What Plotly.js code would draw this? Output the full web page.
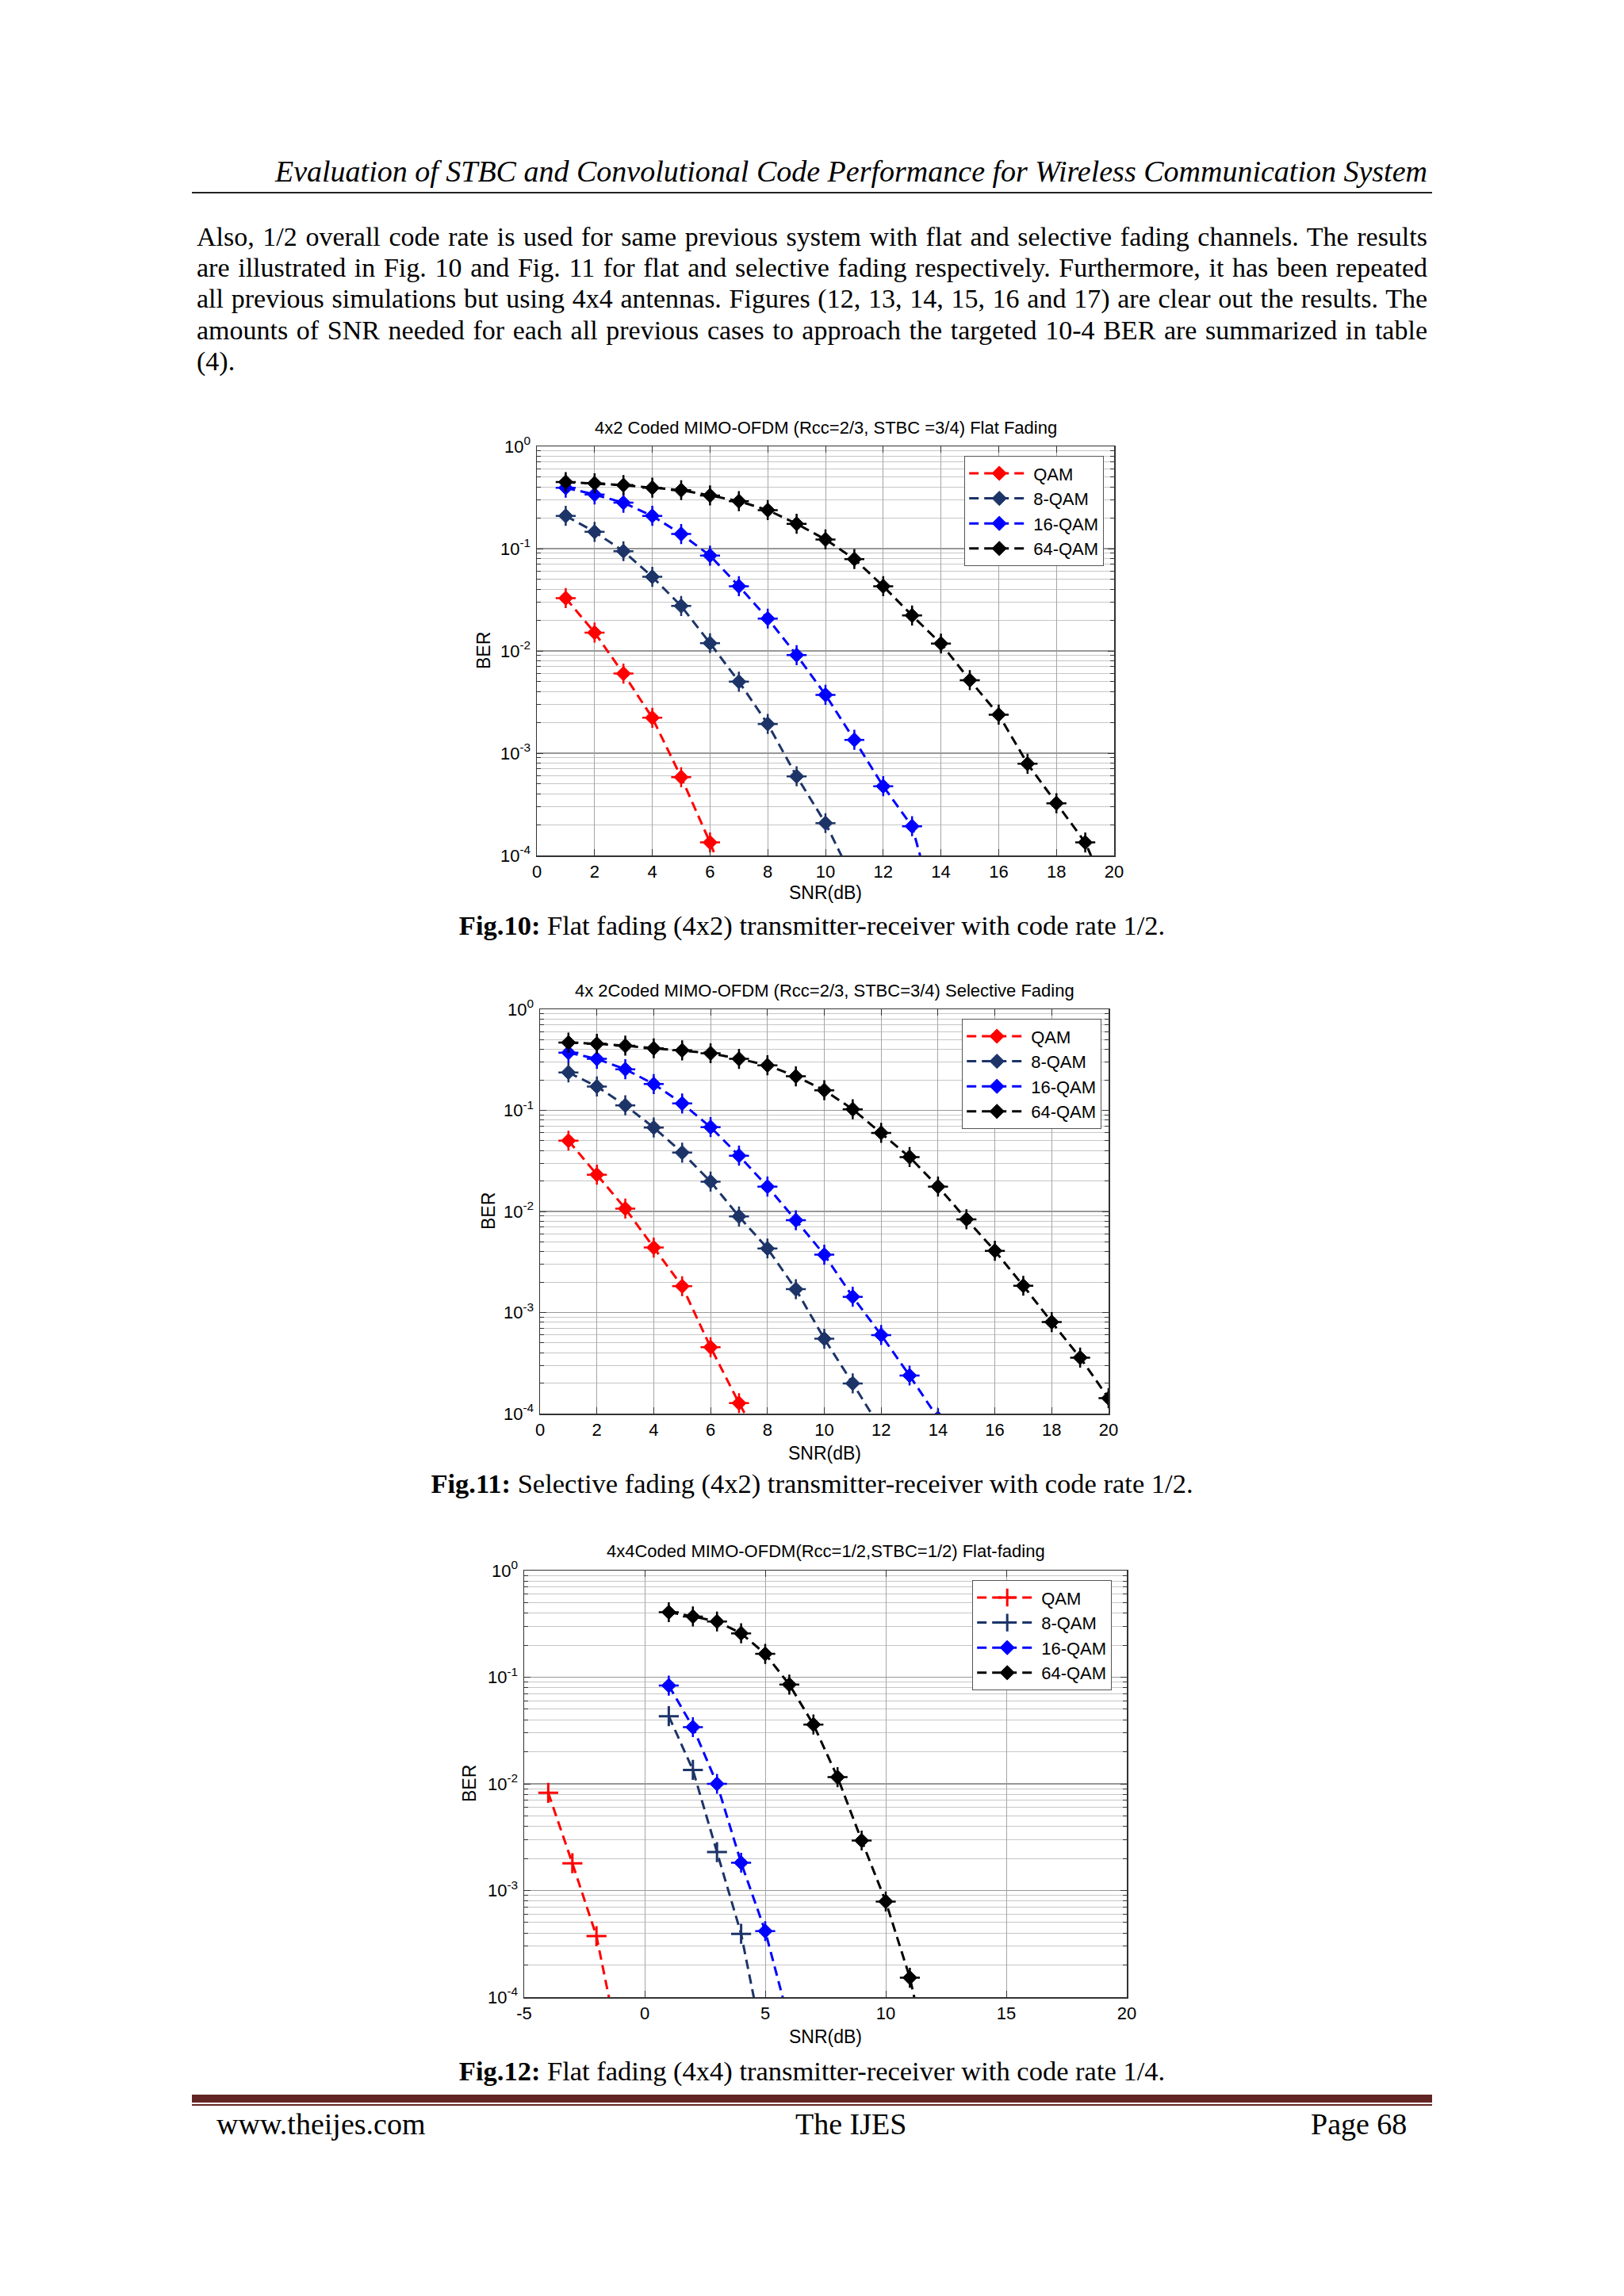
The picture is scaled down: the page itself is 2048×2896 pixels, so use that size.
<!DOCTYPE html>
<html>
<head>
<meta charset="utf-8">
<script src="https://cdn.plot.ly/plotly-3.0.1.min.js"></script>
<style>
  html, body { margin:0; padding:0; background:#fff; }
  #page { position:relative; width:2048px; height:2896px; overflow:hidden; background:#fff; }
  #plot { position:absolute; left:0; top:0; width:2048px; height:2896px; }
  .txt { position:absolute; font-family:"Liberation Serif","Times New Roman",serif; color:#000; z-index:5; pointer-events:none; white-space:nowrap; }
  #header { left:242px; width:1558px; top:197px; font-size:38px; line-height:38px; font-style:italic; text-align:right; }
  #hline { position:absolute; left:242px; width:1564px; top:242px; height:2px; background:#222; z-index:5; }
  #para { left:248px; width:1552px; top:279px; font-size:34px; line-height:39.2px; white-space:normal; }
  #para div { text-align:justify; text-align-last:justify; white-space:nowrap; word-spacing:-3px; }
  #para div.last { text-align-last:left; word-spacing:0; }
  .cap { left:0; width:2048px; font-size:34.5px; line-height:34px; text-align:center; }
  #fline1 { position:absolute; left:242px; width:1564px; top:2642px; height:10px; background:#632523; z-index:5; }
  #fline2 { position:absolute; left:242px; width:1564px; top:2654px; height:2px; background:#632523; z-index:5; }
  .foot { top:2660px; font-size:38px; line-height:38px; }
</style>
</head>
<body>
<div id="page">
  <div id="plot"></div>
  <div id="header" class="txt">Evaluation of STBC and Convolutional Code Performance for Wireless Communication System</div>
  <div id="hline"></div>
  <div id="para" class="txt">
    <div>Also, 1/2 overall code rate is used for same previous system with flat and selective fading channels. The results</div>
    <div>are illustrated in Fig. 10 and Fig. 11 for flat and selective fading respectively. Furthermore, it has been repeated</div>
    <div>all previous simulations but using 4x4 antennas. Figures (12, 13, 14, 15, 16 and 17) are clear out the results. The</div>
    <div>amounts of SNR needed for each all previous cases to approach the targeted 10-4 BER are summarized in table</div>
    <div class="last">(4).</div>
  </div>
  <div class="txt cap" style="top:1150px;"><b>Fig.10:</b> Flat fading (4x2) transmitter-receiver with code rate 1/2.</div>
  <div class="txt cap" style="top:1854px;"><b>Fig.11:</b> Selective fading (4x2) transmitter-receiver with code rate 1/2.</div>
  <div class="txt cap" style="top:2595px;"><b>Fig.12:</b> Flat fading (4x4) transmitter-receiver with code rate 1/4.</div>
  <div id="fline1"></div>
  <div id="fline2"></div>
  <div class="txt foot" style="left:273px;">www.theijes.com</div>
  <div class="txt foot" style="left:1003px;">The IJES</div>
  <div class="txt foot" style="left:1653px;">Page 68</div>
</div>
<script>
// ---------- data ----------
const seriesNames = ["QAM", "8-QAM", "16-QAM", "64-QAM"];
const seriesColors = ["#ff0000", "#1c3468", "#0000ff", "#000000"];

// Fig.10 : 4x2 flat fading
const fig10_snr = [1,2,3,4,5,6,7,8,9,10,11,12,13,14,15,16,17,18,19,20];
const fig10_qam   = [0.0328, 0.0151, 0.0060, 0.00222, 0.000582, 0.000134, 0.000026];
const fig10_qam8  = [0.209, 0.146, 0.0944, 0.053, 0.0275, 0.0119, 0.0050, 0.00193, 0.000594, 0.000207, 0.000055];
const fig10_qam16 = [0.394, 0.338, 0.281, 0.209, 0.139, 0.0855, 0.0429, 0.0207, 0.0091, 0.00372, 0.00135, 0.000475, 0.000193, 0.000018];
const fig10_qam64 = [0.448, 0.435, 0.418, 0.394, 0.373, 0.331, 0.291, 0.238, 0.175, 0.123, 0.0791, 0.0429, 0.0222, 0.0118, 0.00517, 0.00238, 0.000788, 0.000324, 0.000134, 0.00003];

// Fig.11 : 4x2 selective fading
const fig11_snr = [1,2,3,4,5,6,7,8,9,10,11,12,13,14,15,16,17,18,19,20];
const fig11_qam   = [0.0501, 0.0231, 0.01067, 0.00439, 0.00182, 0.000453, 0.000127, 0.00004];
const fig11_qam8  = [0.237, 0.172, 0.112, 0.0676, 0.0382, 0.0197, 0.00892, 0.0043, 0.0017, 0.00055, 0.000199, 0.00007];
const fig11_qam16 = [0.372, 0.323, 0.255, 0.182, 0.117, 0.0682, 0.0356, 0.0176, 0.00818, 0.00373, 0.00143, 0.000599, 0.000238, 0.00009];
const fig11_qam64 = [0.468, 0.455, 0.436, 0.411, 0.392, 0.367, 0.323, 0.279, 0.217, 0.158, 0.1025, 0.0599, 0.0345, 0.0176, 0.00836, 0.00408, 0.00184, 0.000804, 0.000358, 0.000142];

// Fig.12 : 4x4 flat fading
const fig12_snr_qam = [-4, -3, -2, -1];
const fig12_snr = [1,2,3,4,5,6,7,8,9,10,11,12];
const fig12_qam   = [0.00824, 0.0018, 0.000373, 0.000029];
const fig12_qam8  = [0.0431, 0.0135, 0.00229, 0.000392, 0.000029];
const fig12_qam16 = [0.0835, 0.034, 0.01, 0.00182, 0.000416, 0.000058];
const fig12_qam64 = [0.407, 0.371, 0.333, 0.258, 0.1655, 0.0853, 0.036, 0.01155, 0.00294, 0.000788, 0.000152, 0.000015];

// tick labels
const xticks_a = [0,2,4,6,8,10,12,14,16,18,20];
const xticks_b = [-5,0,5,10,15,20];
const yticks = [1e-4, 1e-3, 1e-2, 1e-1, 1];
const yticklabels = ["10<sup>-4</sup>","10<sup>-3</sup>","10<sup>-2</sup>","10<sup>-1</sup>","10<sup>0</sup>"];

const titles = [
  "4x2 Coded MIMO-OFDM (Rcc=2/3, STBC =3/4) Flat Fading",
  "4x 2Coded MIMO-OFDM (Rcc=2/3, STBC=3/4) Selective Fading",
  "4x4Coded MIMO-OFDM(Rcc=1/2,STBC=1/2) Flat-fading"
];

// ---------- layout helpers ----------
const W = 2048, H = 2896;
const px = v => v / W;
const py = v => 1 - v / H;
const SANS = "Liberation Sans, Arial, sans-serif";
const FS = 22;

const boxes = [
  {l:677, r:1405, t:563,  b:1079, legend:{x:1216, y:575},  title:539,  snr:1126, ber:610},
  {l:681, r:1398, t:1273, b:1783, legend:{x:1213, y:1285}, title:1250, snr:1833, ber:616},
  {l:661, r:1421, t:1981, b:2519, legend:{x:1226, y:1993}, title:1956, snr:2569, ber:592}
];

const minorVals = [];
for (let d = -4; d < 0; d++) for (let k = 2; k <= 9; k++) minorVals.push(k * Math.pow(10, d));

function xAxis(b, anchor, range, vals) {
  return {
    domain:[px(b.l), px(b.r)], anchor:anchor, range:range,
    tickmode:'array', tickvals:vals, ticktext:vals.map(String),
    ticks:'inside', ticklen:8, tickwidth:1, tickcolor:'#333',
    showline:true, linecolor:'#333', linewidth:1.5, mirror:'allticks',
    showgrid:true, gridcolor:'#a6a6a6', gridwidth:1, zeroline:false,
    tickfont:{family:SANS, size:FS, color:'#000'}, fixedrange:true, ticklabelstandoff:0
  };
}
function yAxis(b, anchor) {
  return {
    domain:[py(b.b), py(b.t)], anchor:anchor, type:'log', range:[-4, 0],
    tickmode:'array', tickvals:yticks, ticktext:yticklabels,
    ticks:'inside', ticklen:8, tickwidth:1, tickcolor:'#333',
    minor:{tickvals:minorVals, ticks:'inside', ticklen:5, tickcolor:'#333', showgrid:true, gridcolor:'#c6c6c6', gridwidth:1},
    showline:true, linecolor:'#333', linewidth:1.5, mirror:'allticks',
    showgrid:true, gridcolor:'#989898', gridwidth:1.3, zeroline:false,
    tickfont:{family:SANS, size:FS, color:'#000'}, fixedrange:true, ticklabelstandoff:2
  };
}

const traces = [];
function addSeries(xs, ys, idx, ax, legendId, marker) {
  const xref = ax === 1 ? 'x' : 'x' + ax;
  const yref = ax === 1 ? 'y' : 'y' + ax;
  const x = xs.slice(0, ys.length);
  const color = seriesColors[idx];
  const base = {
    x:x, y:ys, xaxis:xref, yaxis:yref, type:'scatter', name:seriesNames[idx],
    legend:legendId, legendgroup:legendId + idx, cliponaxis:true
  };
  if (marker === 'plus') {
    traces.push(Object.assign({}, base, {
      mode:'lines+markers',
      line:{color:color, width:3, dash:'12px,7px'},
      marker:{symbol:'cross-thin', size:18, color:color, line:{color:color, width:3}}
    }));
  } else {
    traces.push(Object.assign({}, base, {
      mode:'lines+markers',
      line:{color:color, width:3, dash:'12px,7px'},
      marker:{symbol:'diamond', size:14, color:color, line:{color:color, width:1}}
    }));
    traces.push(Object.assign({}, base, {
      mode:'markers', showlegend:false, hoverinfo:'skip',
      marker:{symbol:'cross-thin', size:18, color:color, line:{color:color, width:2.5}}
    }));
  }
}

addSeries(fig10_snr, fig10_qam,   0, 1, 'legend', 'diamond');
addSeries(fig10_snr, fig10_qam8,  1, 1, 'legend', 'diamond');
addSeries(fig10_snr, fig10_qam16, 2, 1, 'legend', 'diamond');
addSeries(fig10_snr, fig10_qam64, 3, 1, 'legend', 'diamond');

addSeries(fig11_snr, fig11_qam,   0, 2, 'legend2', 'diamond');
addSeries(fig11_snr, fig11_qam8,  1, 2, 'legend2', 'diamond');
addSeries(fig11_snr, fig11_qam16, 2, 2, 'legend2', 'diamond');
addSeries(fig11_snr, fig11_qam64, 3, 2, 'legend2', 'diamond');

addSeries(fig12_snr_qam, fig12_qam, 0, 3, 'legend3', 'plus');
addSeries(fig12_snr, fig12_qam8,    1, 3, 'legend3', 'plus');
addSeries(fig12_snr, fig12_qam16,   2, 3, 'legend3', 'diamond');
addSeries(fig12_snr, fig12_qam64,   3, 3, 'legend3', 'diamond');

function legendCfg(b) {
  return {
    x:px(b.legend.x), y:py(b.legend.y), xanchor:'left', yanchor:'top',
    xref:'paper', yref:'paper',
    bgcolor:'#ffffff', bordercolor:'#555', borderwidth:1.2,
    font:{family:SANS, size:FS, color:'#000'}, itemwidth:76, tracegroupgap:0,
    traceorder:'normal'
  };
}

const annotations = [];
boxes.forEach((b, i) => {
  const cx = px((b.l + b.r) / 2);
  annotations.push({xref:'paper', yref:'paper', x:cx, y:py(b.title), text:titles[i], showarrow:false,
    xanchor:'center', yanchor:'middle', font:{family:SANS, size:FS, color:'#000'}});
  annotations.push({xref:'paper', yref:'paper', x:cx, y:py(b.snr), text:'SNR(dB)', showarrow:false,
    xanchor:'center', yanchor:'middle', font:{family:SANS, size:FS + 1, color:'#000'}});
  annotations.push({xref:'paper', yref:'paper', x:px(b.ber), y:py((b.t + b.b) / 2), text:'BER', showarrow:false,
    textangle:-90, xanchor:'center', yanchor:'middle', font:{family:SANS, size:FS + 1, color:'#000'}});
});

const layout = {
  width:W, height:H, margin:{l:0, r:0, t:0, b:0},
  paper_bgcolor:'#ffffff', plot_bgcolor:'#ffffff', showlegend:true,
  xaxis: xAxis(boxes[0], 'y', [0, 20], xticks_a),
  yaxis: yAxis(boxes[0], 'x'),
  xaxis2: xAxis(boxes[1], 'y2', [0, 20], xticks_a),
  yaxis2: yAxis(boxes[1], 'x2'),
  xaxis3: xAxis(boxes[2], 'y3', [-5, 20], xticks_b),
  yaxis3: yAxis(boxes[2], 'x3'),
  legend: legendCfg(boxes[0]),
  legend2: legendCfg(boxes[1]),
  legend3: legendCfg(boxes[2]),
  annotations: annotations
};

Plotly.newPlot('plot', traces, layout, {displayModeBar:false, staticPlot:true});
</script>
</body>
</html>
